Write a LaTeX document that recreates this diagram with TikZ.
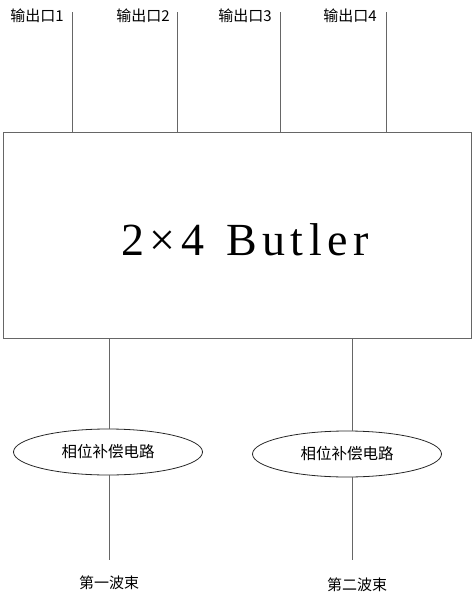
\documentclass[tikz,border=0pt]{standalone}
\usepackage{fontspec}
\setmainfont{Noto Sans CJK SC}
\newfontfamily\butlerfont[LetterSpace=12]{Liberation Serif}
\usepackage{tikz}
\usetikzlibrary{shapes.geometric}

\begin{document}
\begin{tikzpicture}[x=1pt,y=-1pt,
wire/.style={black!60, line width=0.8pt},
block/.style={draw=black!60, line width=0.9pt, minimum width=468pt, minimum height=206pt, inner sep=0pt},
phase/.style={ellipse, draw=black!85, line width=0.8pt, minimum width=189pt, minimum height=46pt, inner sep=0pt, font=\fontsize{15.5}{15.5}\selectfont},
lbl/.style={font=\fontsize{15}{15}\selectfont, inner sep=0pt},
]
\useasboundingbox (0,0) rectangle (474,597);

%\draw[help lines,yellow,thin] (0,0) grid[step=20] (474,597);

\node [block] (butler) at (237,235){};
\node [font=\butlerfont\fontsize{46}{46}\selectfont] (title) at (245,240){2×4\hspace{22pt}Butler};

\coordinate (o1) at (72,12);
\coordinate (o2) at (177,12);
\coordinate (o3) at (280,12);
\coordinate (o4) at (386,12);

\node [lbl] (t1) at (37,16){输出口1};
\node [lbl] (t2) at (143,16){输出口2};
\node [lbl] (t3) at (245,16){输出口3};
\node [lbl] (t4) at (350,16){输出口4};

\draw[wire] (o1) -- (o1 |- butler.north);
\draw[wire] (o2) -- (o2 |- butler.north);
\draw[wire] (o3) -- (o3 |- butler.north);
\draw[wire] (o4) -- (o4 |- butler.north);

\node [phase] (pc1) at (108,452){相位补偿电路};
\node [phase] (pc2) at (347,454){相位补偿电路};

\coordinate (e1) at (109,560);
\coordinate (e2) at (352,560);

\draw[wire] (e1 |- butler.south) -- (e1 |- pc1.north);
\draw[wire] (e1 |- pc1.south) -- (e1);
\draw[wire] (e2 |- butler.south) -- (e2 |- pc2.north);
\draw[wire] (e2 |- pc2.south) -- (e2);

\node [lbl] (b1) at (109,583){第一波束};
\node [lbl] (b2) at (357,585){第二波束};
\end{tikzpicture}
\end{document}
